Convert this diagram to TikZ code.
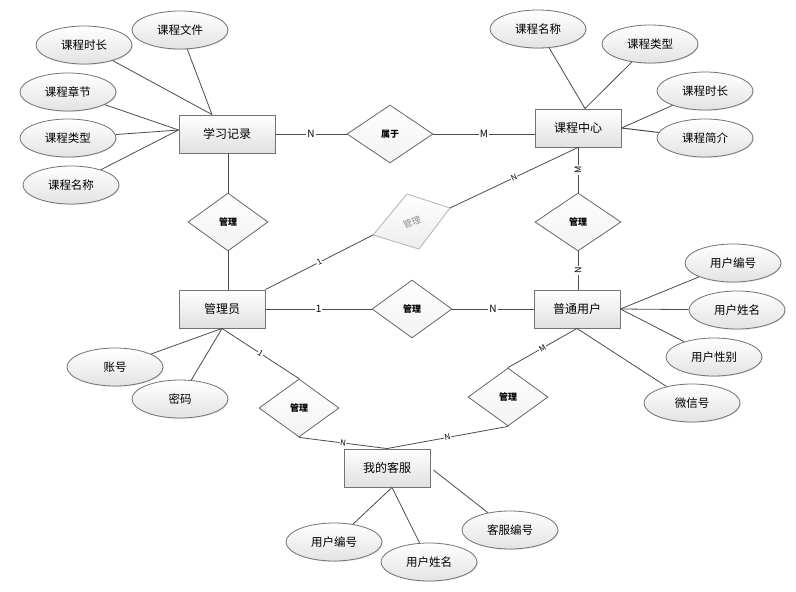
\documentclass[tikz,border=0pt]{standalone}
\usepackage{fontspec}
\setmainfont{Noto Sans CJK SC}
\usetikzlibrary{shapes.geometric,shadows,calc}
\tikzset{
  ln/.style={draw=black!70, line width=0.8pt},
  ent/.style={rectangle, draw=black!55, line width=0.9pt, top color=white, bottom color=black!12,
    minimum width=86pt, minimum height=38pt, inner sep=0pt, font=\fontsize{12}{14}\selectfont,
    drop shadow={shadow xshift=1.2pt, shadow yshift=-1.2pt, opacity=0.35}},
  attr/.style={ellipse, draw=black!55, line width=0.8pt, top color=white, bottom color=black!11,
    minimum width=96pt, minimum height=38pt, inner sep=0pt, font=\fontsize{11.5}{13}\selectfont,
    drop shadow={shadow xshift=0.8pt, shadow yshift=-0.8pt, opacity=0.25}},
  rel/.style={diamond, draw=black!60, line width=0.8pt, top color=white, bottom color=black!5,
    minimum width=80pt, minimum height=58pt, inner sep=0pt, font=\bfseries\fontsize{9}{10}\selectfont},
  lbl/.style={fill=white, inner sep=1pt, font=\fontsize{10}{11}\selectfont},
  slbl/.style={fill=white, inner sep=0.6pt, sloped, font=\fontsize{8}{9}\selectfont},
}
\begin{document}
\begin{tikzpicture}[x=1pt,y=-1pt]
\useasboundingbox[fill=white] (0,0) rectangle (796,592);

% entities
\node[ent, minimum width=96pt] (xx) at (227,134) {学习记录};
\node[ent] (kc) at (578,128) {课程中心};
\node[ent] (gy) at (222,309) {管理员};
\node[ent] (pt) at (577,309) {普通用户};
\node[ent] (kf) at (387,468) {我的客服};

% relationships
\node[rel, minimum width=86pt] (sy) at (390,134) {属于};
\node[rel, minimum width=86pt] (g1) at (578,222) {管理};
\node[rel] (g0) at (228,222) {管理};
\node[rel] (g2) at (412,309) {管理};
\node[rel] (g3) at (299,408) {管理};
\node[rel] (g4) at (508,397) {管理};

% faded rotated relationship
\coordinate (rt) at (407,194);
\coordinate (rr) at (450,208);
\coordinate (rb) at (419,249);
\coordinate (rl) at (373,235);
\draw[draw=black!30, line width=0.8pt, top color=white, bottom color=black!7] (rt) -- (rr) -- (rb) -- (rl) -- cycle;
\node[rotate=19, text=black!45, inner sep=0pt, font=\fontsize{9}{10}\selectfont] (rtx) at (412,222) {管理};

% attributes of 学习记录
\node[attr] (a1) at (180,30) {课程文件};
\node[attr] (a2) at (84,45) {课程时长};
\node[attr] (a3) at (68,92) {课程章节};
\node[attr] (a4) at (68,138) {课程类型};
\node[attr] (a5) at (71,185) {课程名称};
\coordinate (xxt) at ($(xx.north)+(-15,0)$);
\coordinate (xxl) at ($(xx.west)+(0,-4)$);
\draw[ln] (a1) -- (xxt);
\draw[ln] (a2) -- (xxt);
\draw[ln] (a3) -- (xxl);
\draw[ln] (a4) -- (xxl);
\draw[ln] (a5) -- (xxl);

% attributes of 课程中心
\node[attr] (b1) at (538,29) {课程名称};
\node[attr] (b2) at (650,44) {课程类型};
\node[attr] (b3) at (705,91) {课程时长};
\node[attr] (b4) at (705,138) {课程简介};
\coordinate (kct) at ($(kc.north)+(7,0)$);
\draw[ln] (b1) -- (kct);
\draw[ln] (b2) -- (kct);
\draw[ln] (b3) -- (kc.east);
\draw[ln, line width=1pt] (b4) -- (kc.east);

% attributes of 管理员
\node[attr] (c1) at (115,367) {账号};
\node[attr] (c2) at (180,399) {密码};
\draw[ln] (c1) -- (gy.south);
\draw[ln] (c2) -- (gy.south);

% attributes of 普通用户
\node[attr] (d1) at (733,263) {用户编号};
\node[attr] (d2) at (737,310) {用户姓名};
\node[attr] (d3) at (714,357) {用户性别};
\node[attr] (d4) at (692,403) {微信号};
\draw[ln] (d1) -- (pt.east);
\draw[ln] (d2) -- (pt.east);
\draw[ln] (d3) -- (pt.east);
\draw[ln] (d4) -- (pt.south);

% attributes of 我的客服
\node[attr] (e1) at (334,542) {用户编号};
\node[attr] (e2) at (429,562) {用户姓名};
\node[attr] (e3) at (510,530) {客服编号};
\coordinate (kfb) at ($(kf.south)+(5,0)$);
\draw[ln] (e1) -- (kfb);
\draw[ln] (e2) -- (kfb);
\draw[ln] (e3) -- ($(kf.east)+(3,2)$);

% relationship connectors
\draw[ln] (xx.east) -- node[lbl]{N} (sy.west);
\draw[ln] (sy.east) -- node[lbl]{M} (kc.west |- sy);
\draw[ln] (xx.south -| g0) -- (g0.north);
\draw[ln] (g0.south) -- (gy.north -| g0);
\draw[ln] (gy.north east) -- node[slbl]{1} (rl);
\draw[ln] (rr) -- node[slbl]{N} (kc.south);
\draw[ln] (kc.south) -- node[lbl, rotate=90, font=\fontsize{9}{10}\selectfont]{M} (g1.north);
\draw[ln] (g1.south) -- node[lbl, rotate=90, font=\fontsize{9}{10}\selectfont]{N} (pt.north -| g1);
\draw[ln] (gy.east) -- node[lbl]{1} (g2.west);
\draw[ln] (g2.east) -- node[lbl]{N} (pt.west);
\draw[ln] (gy.south) -- node[slbl]{1} (g3.north);
\draw[ln] (g3.south) -- node[slbl]{N} (kf.north);
\draw[ln] (pt.south) -- node[slbl]{M} (g4.north);
\draw[ln] (g4.south) -- node[slbl]{N} (kf.north);
\end{tikzpicture}
\end{document}
